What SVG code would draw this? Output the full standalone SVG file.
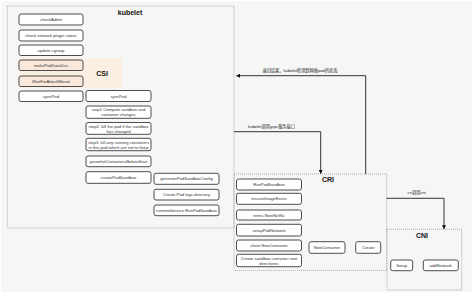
<svg xmlns="http://www.w3.org/2000/svg" width="474" height="295" viewBox="0 0 474 295">
<defs>
<style>
.bg{fill:#f6f6f6}
.frame{fill:none;stroke:#9a9a9a;stroke-width:0.8;stroke-dasharray:1 1}
.box{fill:#ffffff;stroke:#4d4d4d;stroke-width:1}
.obox{fill:#fae9da;stroke:#4d4d4d;stroke-width:1}
.t{font-family:"Liberation Sans",Arial,sans-serif;font-size:4.2px;fill:#333;text-anchor:middle;dominant-baseline:central}
.title{font-family:"Liberation Sans",Arial,sans-serif;font-size:7px;font-weight:bold;fill:#111;text-anchor:middle;dominant-baseline:central}
.lbl{font-family:"Liberation Sans","Noto Sans CJK SC",sans-serif;font-size:4.2px;fill:#222;text-anchor:middle}
.edge{fill:none;stroke:#333;stroke-width:1}
</style>
<marker id="arr" viewBox="0 0 10 10" refX="9" refY="5" markerWidth="4" markerHeight="4" orient="auto" markerUnits="userSpaceOnUse">
<path d="M0,0 L10,5 L0,10 z" fill="#111"/>
</marker>
</defs>
<rect class="bg" x="1" y="1" width="471" height="291"/>

<g id="kubelet">
<rect class="frame" x="7.3" y="6" width="226.7" height="222"/>
<text class="title" x="130" y="12">kubelet</text>
</g>
<g id="cri">
<rect class="frame" x="234" y="174" width="152.7" height="96.5"/>
<text class="title" x="328" y="179.5">CRI</text>
</g>
<g id="cni">
<rect class="frame" x="387" y="229.3" width="74.7" height="60.7"/>
<text class="title" x="422" y="235.5">CNI</text>
</g>

<g id="csi">
<rect x="18" y="58" width="104" height="30.5" rx="4" fill="#fbeee3"/>
<text class="title" x="102" y="73.5">CSI</text>
</g>

<g id="checkAdmit"><rect class="box" x="19" y="14" width="64" height="11" rx="2"/><text class="t" x="51" y="19.5">checkAdmit</text></g>
<g id="checkNetwork"><rect class="box" x="19" y="30" width="64" height="11" rx="2"/><text class="t" x="51" y="35.5">check network plugin status</text></g>
<g id="updateCgroup"><rect class="box" x="19" y="45" width="64" height="10.5" rx="2"/><text class="t" x="51" y="50.2">update cgroup</text></g>
<g id="makePodDataDirs"><rect class="obox" x="19" y="60" width="64" height="10.5" rx="2"/><text class="t" x="51" y="65.2">makePodDataDirs</text></g>
<g id="waitForAttachMount"><rect class="obox" x="19" y="76" width="64" height="10.5" rx="2"/><text class="t" x="51" y="81.2">WaitForAttachMount</text></g>
<g id="syncPod1"><rect class="box" x="19" y="91" width="64" height="10.5" rx="2"/><text class="t" x="51" y="96.2">syncPod</text></g>

<g id="syncPod2"><rect class="box" x="86" y="90.5" width="65" height="11" rx="2"/><text class="t" x="118.5" y="96">syncPod</text></g>
<g id="step1"><rect class="box" x="86" y="106" width="65" height="12.3" rx="2"/><text class="t" x="118.5" y="109.8">step1 Compute sandbox and</text><text class="t" x="118.5" y="114.8">container changes</text></g>
<g id="step2"><rect class="box" x="86" y="122.5" width="65" height="11.8" rx="2"/><text class="t" x="118.5" y="126">step2: kill the pod if the sandbox</text><text class="t" x="118.5" y="131">has changed</text></g>
<g id="step3"><rect class="box" x="86" y="138.3" width="65" height="12.4" rx="2"/><text class="t" x="118.5" y="142">step3. kill any running containers</text><text class="t" x="118.5" y="147">in this pod which are not to keep</text></g>
<g id="pruneInit"><rect class="box" x="86" y="156" width="65" height="10.7" rx="2"/><text class="t" x="118.5" y="161.3">pruneInitContainersBeforeStart</text></g>
<g id="createPodSandbox"><rect class="box" x="86" y="171.7" width="65" height="11.6" rx="2"/><text class="t" x="118.5" y="177.5">createPodSandbox</text></g>

<g id="generateConfig"><rect class="box" x="154" y="173.3" width="65" height="11" rx="2"/><text class="t" x="186.5" y="178.8">generatePodSandboxConfig</text></g>
<g id="createLogsDir"><rect class="box" x="154" y="189.3" width="65" height="10.7" rx="2"/><text class="t" x="186.5" y="194.6">Create Pod logs directory</text></g>
<g id="runtimeServiceRun"><rect class="box" x="154" y="205" width="65" height="10.7" rx="2"/><text class="t" x="186.5" y="210.3">runtimeService.RunPodSandbox</text></g>

<g id="runPodSandbox"><rect class="box" x="236.5" y="179" width="65" height="11" rx="2"/><text class="t" x="269" y="184.5">RunPodSandbox</text></g>
<g id="ensureImageExists"><rect class="box" x="236.5" y="193.3" width="65" height="11" rx="2"/><text class="t" x="269" y="198.8">ensureImageExists</text></g>
<g id="newNetNs"><rect class="box" x="236.5" y="210" width="65" height="10" rx="2"/><text class="t" x="269" y="215">netns.NewNetNs</text></g>
<g id="setupPodNetwork"><rect class="box" x="236.5" y="224.3" width="65" height="11.7" rx="2"/><text class="t" x="269" y="230.1">setupPodNetwork</text></g>
<g id="clientNewContainer"><rect class="box" x="236.5" y="240" width="65" height="11" rx="2"/><text class="t" x="269" y="245.5">client.NewContainer</text></g>
<g id="createRootDirs"><rect class="box" x="236.5" y="254.3" width="65" height="12.4" rx="2"/><text class="t" x="269" y="258">Create sandbox container root</text><text class="t" x="269" y="263">directories</text></g>
<g id="newContainer"><rect class="box" x="309" y="241.7" width="36" height="11.6" rx="2"/><text class="t" x="327" y="247.5">NewContainer</text></g>
<g id="create"><rect class="box" x="355.7" y="241.7" width="25" height="11.6" rx="2"/><text class="t" x="368.2" y="247.5">Create</text></g>

<g id="setup"><rect class="box" x="390.7" y="260" width="22" height="10.7" rx="2"/><text class="t" x="401.7" y="265.3">Setup</text></g>
<g id="addNetwork"><rect class="box" x="423.3" y="260" width="35" height="10.7" rx="2"/><text class="t" x="440.8" y="265.3">addNetwork</text></g>

<g id="connectors">
<path class="edge" d="M365.7,174 V75.7 H236.5" marker-end="url(#arr)"/>
<text class="lbl" x="300" y="71.8">返回结果，kubelet检测到网络pod的状态</text>
<path class="edge" d="M234,131.7 H320.7 V173.5" marker-end="url(#arr)"/>
<text class="lbl" x="271.5" y="128.2">kubelet调用grpc服务接口</text>
<path class="edge" d="M386.7,198.3 H444 V228.8" marker-end="url(#arr)"/>
<text class="lbl" x="416.7" y="193.5">cri调用cni</text>
</g>
</svg>
